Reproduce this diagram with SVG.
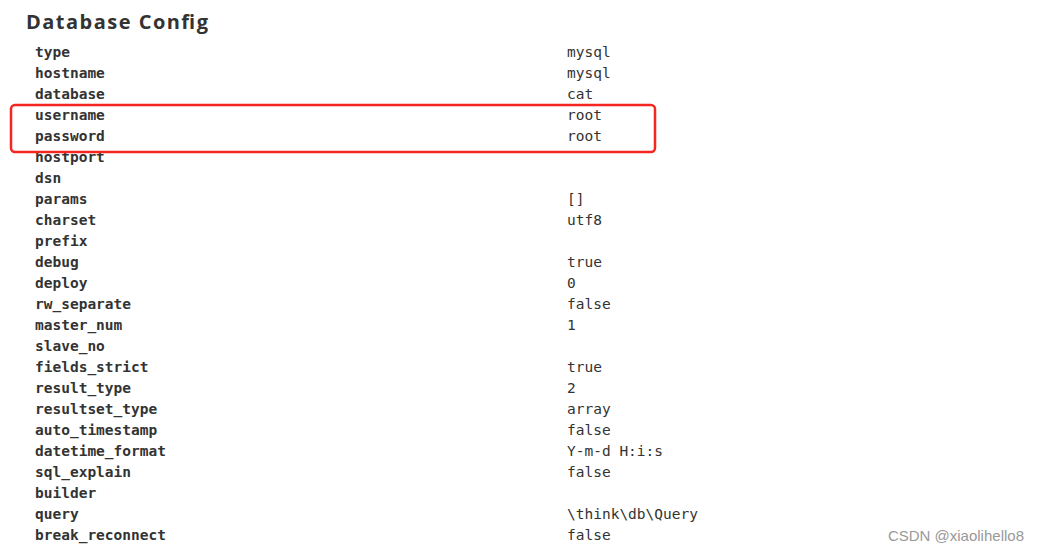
<svg xmlns="http://www.w3.org/2000/svg" width="1039" height="552" viewBox="0 0 1039 552">
<style>
.k{font-family:"DejaVu Sans Mono","Liberation Mono",monospace;font-size:14.5px;font-weight:bold;fill:#333}
.v{font-family:"DejaVu Sans Mono","Liberation Mono",monospace;font-size:14.5px;fill:#333}
</style>
<rect width="1039" height="552" fill="#fff"/>
<text x="26" y="29" font-family="'Open Sans','DejaVu Sans',sans-serif" font-size="20" font-weight="bold" fill="#333" textLength="182">Database Config</text>
<g id="keys">
<text class="k" x="35" y="57">type</text>
<text class="k" x="35" y="78">hostname</text>
<text class="k" x="35" y="99">database</text>
<text class="k" x="35" y="120">username</text>
<text class="k" x="35" y="141">password</text>
<text class="k" x="35" y="162">hostport</text>
<text class="k" x="35" y="183">dsn</text>
<text class="k" x="35" y="204">params</text>
<text class="k" x="35" y="225">charset</text>
<text class="k" x="35" y="246">prefix</text>
<text class="k" x="35" y="267">debug</text>
<text class="k" x="35" y="288">deploy</text>
<text class="k" x="35" y="309">rw_separate</text>
<text class="k" x="35" y="330">master_num</text>
<text class="k" x="35" y="351">slave_no</text>
<text class="k" x="35" y="372">fields_strict</text>
<text class="k" x="35" y="393">result_type</text>
<text class="k" x="35" y="414">resultset_type</text>
<text class="k" x="35" y="435">auto_timestamp</text>
<text class="k" x="35" y="456">datetime_format</text>
<text class="k" x="35" y="477">sql_explain</text>
<text class="k" x="35" y="498">builder</text>
<text class="k" x="35" y="519">query</text>
<text class="k" x="35" y="540">break_reconnect</text>
</g>
<g id="values">
<text class="v" x="567" y="57">mysql</text>
<text class="v" x="567" y="78">mysql</text>
<text class="v" x="567" y="99">cat</text>
<text class="v" x="567" y="120">root</text>
<text class="v" x="567" y="141">root</text>
<text class="v" x="567" y="204">[]</text>
<text class="v" x="567" y="225">utf8</text>
<text class="v" x="567" y="267">true</text>
<text class="v" x="567" y="288">0</text>
<text class="v" x="567" y="309">false</text>
<text class="v" x="567" y="330">1</text>
<text class="v" x="567" y="372">true</text>
<text class="v" x="567" y="393">2</text>
<text class="v" x="567" y="414">array</text>
<text class="v" x="567" y="435">false</text>
<text class="v" x="567" y="456">Y-m-d H:i:s</text>
<text class="v" x="567" y="477">false</text>
<text class="v" x="567" y="519">\think\db\Query</text>
<text class="v" x="567" y="540">false</text>
</g>
<rect id="highlight" x="11" y="105" width="644" height="47" rx="4" fill="none" stroke="#f5261f" stroke-width="2.5"/>
<text x="1024" y="541" text-anchor="end" font-family="'Liberation Sans',sans-serif" font-size="15" fill="#999">CSDN @xiaolihello8</text>
</svg>
